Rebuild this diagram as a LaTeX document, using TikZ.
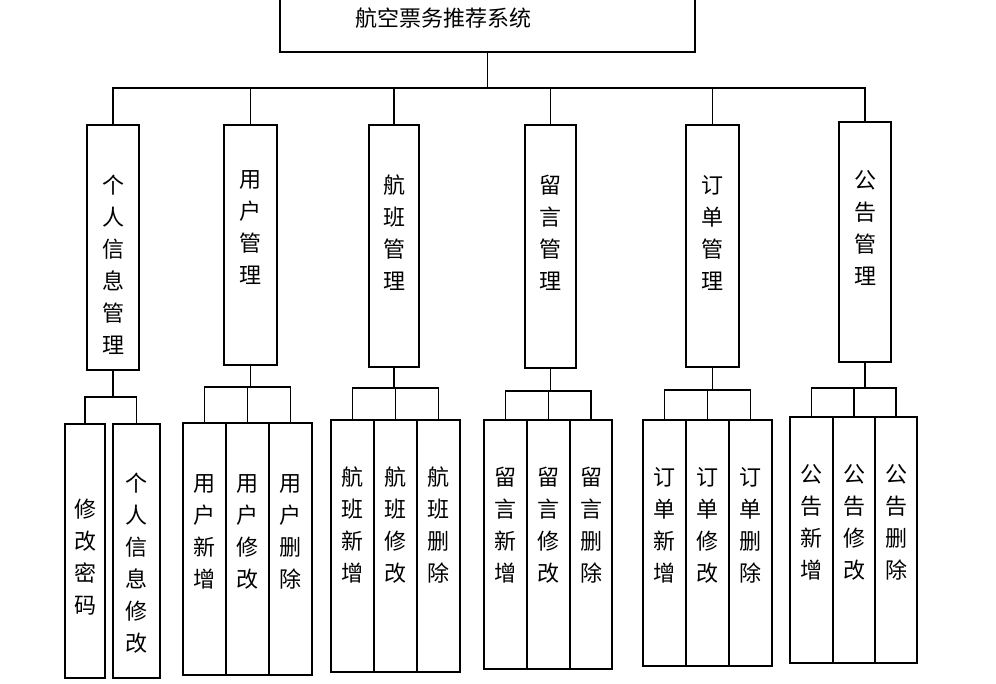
\documentclass[tikz,border=0pt]{standalone}
\usepackage{fontspec}
\newfontfamily\cjk{Noto Sans CJK SC}
\usetikzlibrary{fit}
\tikzset{box/.style={draw, line width=1.5pt, inner sep=0pt},
  lbl/.style={font=\cjk\fontsize{22}{32}\selectfont, align=center, inner sep=0pt}}
% box with its text set at a given height
\newcommand{\tbox}[7]{%
  \node[box, fit={(#2,#3) (#4,#5)}] (#1) {};
  \node[lbl] (#1t) at (#1.center |- 0,#6) {#7};}
\begin{document}
\begin{tikzpicture}[x=1pt, y=-1pt]
\useasboundingbox (0,0) rectangle (996,683);
% top
\node[box, fit={(280,-2) (695,52)}] (top) {};
\node[lbl] (topt) at (443,18) {航空票务推荐系统};
% second level
\tbox{g1}{87}{125}{139}{370}{265}{个\\人\\信\\息\\管\\理}
\tbox{g2}{224}{125}{277}{365}{228}{用\\户\\管\\理}
\tbox{g3}{369}{125}{419}{367}{233}{航\\班\\管\\理}
\tbox{g4}{525}{125}{576}{368}{233}{留\\言\\管\\理}
\tbox{g5}{686}{125}{739}{367}{233}{订\\单\\管\\理}
\tbox{g6}{839}{122}{891}{362}{228}{公\\告\\管\\理}
\coordinate (bus) at (0,88);
\draw[line width=1.5pt] (g1.north) |- (g6.north |- bus) -- (g6.north);
\draw[line width=1.5pt] (top.south) -- (top.south |- bus);
\foreach \n in {g2,g3,g4,g5}
  \draw[line width=1.5pt] (\n.north) -- (\n.north |- bus);
% third level
\tbox{s11}{65}{424}{105}{678}{557}{修\\改\\密\\码}
\tbox{s12}{113}{424}{160}{678}{563}{个\\人\\信\\息\\修\\改}
\tbox{s21}{183}{423}{226}{675}{532}{用\\户\\新\\增}
\tbox{s22}{226}{423}{269}{675}{532}{用\\户\\修\\改}
\tbox{s23}{269}{423}{312}{675}{532}{用\\户\\删\\除}
\tbox{s31}{331}{420}{374}{672}{525}{航\\班\\新\\增}
\tbox{s32}{374}{420}{417}{672}{525}{航\\班\\修\\改}
\tbox{s33}{417}{420}{460}{672}{525}{航\\班\\删\\除}
\tbox{s41}{484}{420}{527}{669}{525}{留\\言\\新\\增}
\tbox{s42}{527}{420}{570}{669}{525}{留\\言\\修\\改}
\tbox{s43}{570}{420}{612}{669}{525}{留\\言\\删\\除}
\tbox{s51}{643}{420}{686}{666}{525}{订\\单\\新\\增}
\tbox{s52}{686}{420}{729}{666}{525}{订\\单\\修\\改}
\tbox{s53}{729}{420}{772}{666}{525}{订\\单\\删\\除}
\tbox{s61}{790}{417}{833}{663}{522}{公\\告\\新\\增}
\tbox{s62}{833}{417}{875}{663}{522}{公\\告\\修\\改}
\tbox{s63}{875}{417}{917}{663}{522}{公\\告\\删\\除}
\coordinate (h1) at (0,397);
\coordinate (h2) at (0,387);
\coordinate (h3) at (0,388);
\coordinate (h4) at (0,391);
\coordinate (h5) at (0,390);
\coordinate (h6) at (0,388);
\draw[line width=1.5pt] (g1.south) -- (g1.south |- h1);
\draw[line width=1.5pt] (s11.north) |- (s12.north |- h1) -- (s12.north);
\foreach \i in {2,...,6} {
  \draw[line width=1.5pt] (g\i.south) -- (g\i.south |- h\i);
  \draw[line width=1.5pt] (s\i1.north) |- (s\i3.north |- h\i) -- (s\i3.north);
  \draw[line width=1.5pt] (s\i2.north) -- (s\i2.north |- h\i);
}
\end{tikzpicture}
\end{document}
